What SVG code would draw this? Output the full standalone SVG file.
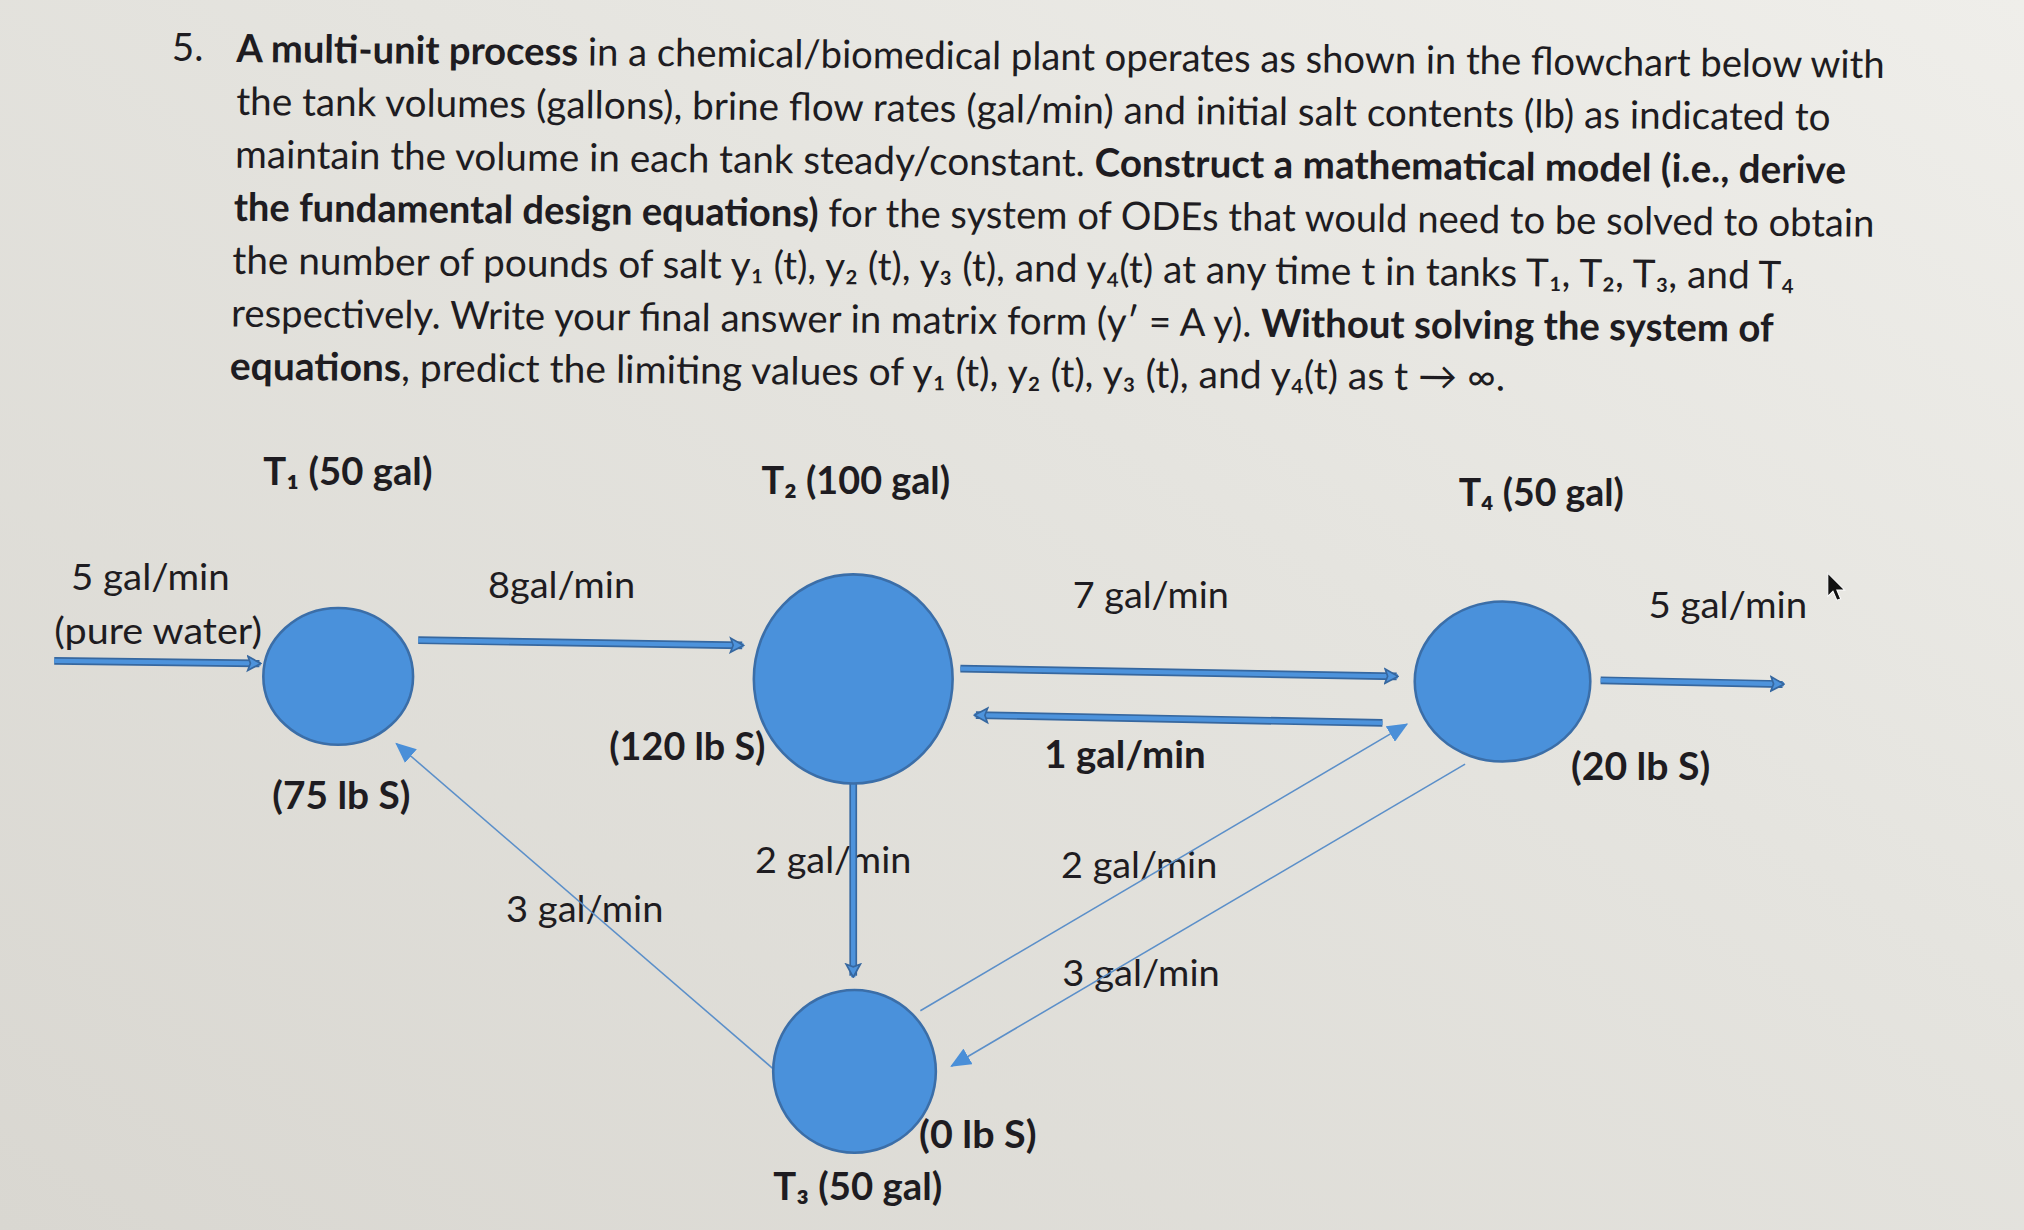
<svg xmlns="http://www.w3.org/2000/svg" width="2024" height="1230" viewBox="0 0 2024 1230">
<defs>
<linearGradient id="bg" x1="0" y1="1" x2="1" y2="0">
<stop offset="0" stop-color="#d9d7d1"/>
<stop offset="0.6" stop-color="#e5e4df"/>
<stop offset="1" stop-color="#efeeea"/>
</linearGradient>
<marker id="chev" markerUnits="userSpaceOnUse" viewBox="0 0 12 16" refX="11" refY="8" markerWidth="12" markerHeight="16" orient="auto">
<path d="M1,2.5 L11,8 L1,13.5 L3,8 Z" fill="#4d93dc" stroke="#36679f" stroke-width="1.3" stroke-linejoin="miter"/>
</marker>
<marker id="tri" markerUnits="userSpaceOnUse" viewBox="0 0 16 14" refX="15" refY="7" markerWidth="16" markerHeight="14" orient="auto">
<path d="M0,0 L16,7 L0,14 Z" fill="#4a8fd8"/>
</marker>
<style>
.t{font-family:Lato,"Open Sans","DejaVu Sans",sans-serif;font-size:30px;fill:#1e1c21}
.l{font-family:Lato,"Open Sans","DejaVu Sans",sans-serif;font-size:29px;fill:#1e1c21}
.b{font-weight:bold}
.tank{fill:#4a91db;stroke:#3b6ea8;stroke-width:2}
.pipe{fill:none;stroke:#36679f;stroke-width:6}
.core{fill:none;stroke:#4d93dc;stroke-width:3.4}
.thin{fill:none;stroke:#5b8fc9;stroke-width:1.2}
</style>
</defs>
<rect width="2024" height="1230" fill="url(#bg)"/>
<g transform="scale(1.29082)">
<g id="question">
<text class="t" x="133" y="47">5.</text>
<text class="t" x="183" y="48" transform="rotate(0.56 183 48)" textLength="1277" lengthAdjust="spacingAndGlyphs"><tspan class="b">A multi-unit process</tspan> in a chemical/biomedical plant operates as shown in the flowchart below with</text>
<text class="t" x="183" y="89" transform="rotate(0.56 183 89)" textLength="1235" lengthAdjust="spacingAndGlyphs">the tank volumes (gallons), brine flow rates (gal/min) and initial salt contents (lb) as indicated to</text>
<text class="t" x="182" y="130" transform="rotate(0.56 182 130)" textLength="1248" lengthAdjust="spacingAndGlyphs">maintain the volume in each tank steady/constant. <tspan class="b">Construct a mathematical model (i.e., derive</tspan></text>
<text class="t" x="181" y="171" transform="rotate(0.56 181 171)" textLength="1271" lengthAdjust="spacingAndGlyphs"><tspan class="b">the fundamental design equations)</tspan> for the system of ODEs that would need to be solved to obtain</text>
<text class="t" x="180" y="212" transform="rotate(0.56 180 212)" textLength="1210" lengthAdjust="spacingAndGlyphs">the number of pounds of salt y₁ (t), y₂ (t), y₃ (t), and y₄(t) at any time t in tanks T₁, T₂, T₃, and T₄</text>
<text class="t" x="179" y="253" transform="rotate(0.56 179 253)" textLength="1195" lengthAdjust="spacingAndGlyphs">respectively. Write your final answer in matrix form (y′ = A y). <tspan class="b">Without solving the system of</tspan></text>
<text class="t" x="178" y="294" transform="rotate(0.5 178 294)" textLength="988" lengthAdjust="spacingAndGlyphs"><tspan class="b">equations</tspan>, predict the limiting values of y₁ (t), y₂ (t), y₃ (t), and y₄(t) as t → ∞.</text>
</g>
<g id="flow-labels">
<text class="l" x="55" y="457" textLength="123" lengthAdjust="spacingAndGlyphs">5 gal/min</text>
<text class="l" x="42" y="499" textLength="161" lengthAdjust="spacingAndGlyphs">(pure water)</text>
<text class="l" x="378" y="463" textLength="114" lengthAdjust="spacingAndGlyphs">8gal/min</text>
<text class="l" x="831" y="471" textLength="121" lengthAdjust="spacingAndGlyphs">7 gal/min</text>
<text class="l" x="1277" y="479" textLength="123" lengthAdjust="spacingAndGlyphs">5 gal/min</text>
<text class="l b" x="809" y="595" textLength="125" lengthAdjust="spacingAndGlyphs">1 gal/min</text>
<text class="l" x="585" y="676" textLength="121" lengthAdjust="spacingAndGlyphs">2 gal/min</text>
<text class="l" x="822" y="680" textLength="121" lengthAdjust="spacingAndGlyphs">2 gal/min</text>
<text class="l" x="392" y="714" textLength="122" lengthAdjust="spacingAndGlyphs">3 gal/min</text>
<text class="l" x="823" y="764" textLength="122" lengthAdjust="spacingAndGlyphs">3 gal/min</text>
</g>
<g id="connectors">
<path class="pipe" d="M42,512 L201,514"/>
<path class="core" d="M42,512 L202,514" marker-end="url(#chev)"/>
<path class="pipe" d="M324,496 L575,500"/>
<path class="core" d="M324,496 L576,500" marker-end="url(#chev)"/>
<path class="pipe" d="M744,518 L1082,524"/>
<path class="core" d="M744,518 L1083,524" marker-end="url(#chev)"/>
<path class="pipe" d="M1071,560 L756,554"/>
<path class="core" d="M1071,560 L755,554" marker-end="url(#chev)"/>
<path class="pipe" d="M1240,527 L1381,530"/>
<path class="core" d="M1240,527 L1382,530" marker-end="url(#chev)"/>
<path class="pipe" d="M661,607 L661,756"/>
<path class="core" d="M661,607 L661,757" marker-end="url(#chev)"/>
<path class="thin" d="M599,828 L307,576" marker-end="url(#tri)"/>
<path class="thin" d="M713,783 L1090,561" marker-end="url(#tri)"/>
<path class="thin" d="M1135,592 L737,826" marker-end="url(#tri)"/>
</g>
<g id="T1">
<ellipse class="tank" cx="262" cy="524" rx="58" ry="53"/>
<text class="l b" x="204" y="376" textLength="131" lengthAdjust="spacingAndGlyphs">T₁ (50 gal)</text>
<text class="l b" x="211" y="627" textLength="107" lengthAdjust="spacingAndGlyphs">(75 lb S)</text>
</g>
<g id="T2">
<ellipse class="tank" cx="661" cy="526" rx="77" ry="81"/>
<text class="l b" x="590" y="383" textLength="146" lengthAdjust="spacingAndGlyphs">T₂ (100 gal)</text>
<text class="l b" x="472" y="589" textLength="121" lengthAdjust="spacingAndGlyphs">(120 lb S)</text>
</g>
<g id="T3">
<ellipse class="tank" cx="662" cy="830" rx="63" ry="63"/>
<text class="l b" x="712" y="889" textLength="91" lengthAdjust="spacingAndGlyphs">(0 lb S)</text>
<text class="l b" x="599" y="930" textLength="131" lengthAdjust="spacingAndGlyphs">T₃ (50 gal)</text>
</g>
<g id="T4">
<ellipse class="tank" cx="1164" cy="528" rx="68" ry="62"/>
<text class="l b" x="1130" y="392" textLength="128" lengthAdjust="spacingAndGlyphs">T₄ (50 gal)</text>
<text class="l b" x="1217" y="604" textLength="108" lengthAdjust="spacingAndGlyphs">(20 lb S)</text>
</g>
<path id="cursor" d="M1416,444 L1416,462 L1420,458 L1423,465 L1426,464 L1423,457 L1429,457 Z" fill="#111" stroke="#fff" stroke-width="0.8"/>
</g>
</svg>
